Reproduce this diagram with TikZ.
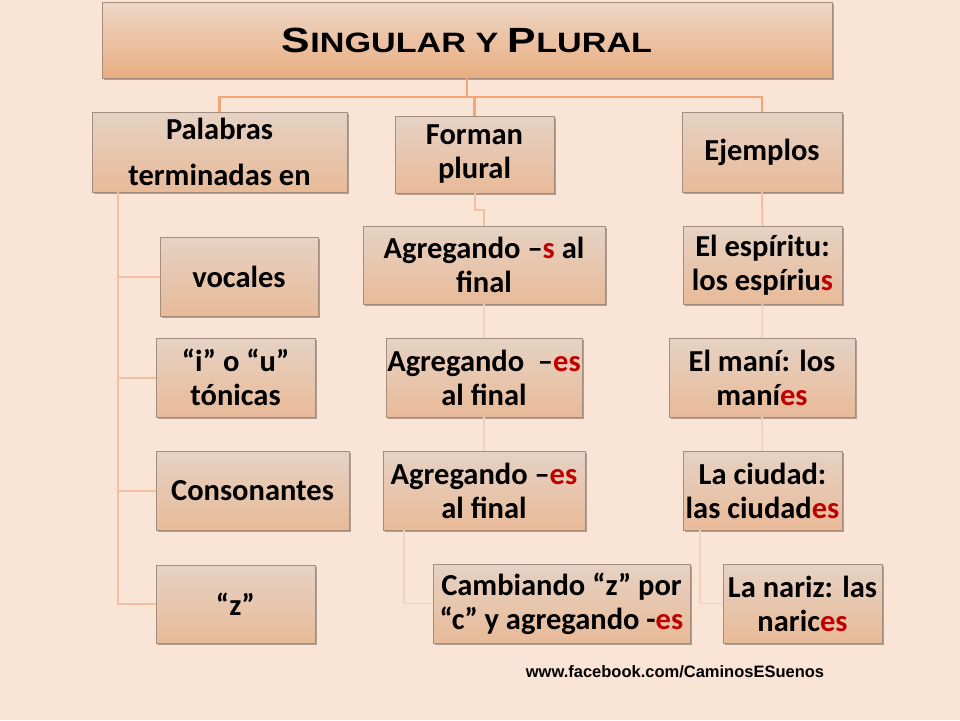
\documentclass[tikz,border=0pt]{standalone}
\usepackage{fontspec}
\setmainfont{Carlito}
\newfontfamily\titlefont{Liberation Sans}
\usetikzlibrary{shadows}
\definecolor{peach_bg}{HTML}{F9E4D6}
\definecolor{peach_top}{HTML}{E6D2C4}
\definecolor{peach_bot}{HTML}{E8BA98}
\definecolor{title_top}{HTML}{EED7C7}
\definecolor{title_bot}{HTML}{E9AD80}
\definecolor{edge_grey}{HTML}{A38D7E}
\definecolor{link_main}{HTML}{F0A676}
\definecolor{link_soft}{HTML}{F2C0A0}
\definecolor{link_faint}{HTML}{F1D0BD}
\definecolor{plural_red}{HTML}{C00000}
\newcommand{\rojo}[1]{\textcolor{plural_red}{#1}}

\begin{document}
\begin{tikzpicture}[x=1pt, y=-1pt,
  box/.style={draw=edge_grey, line width=0.6pt, top color=peach_top, bottom color=peach_bot,
    inner sep=0pt, outer sep=0pt, align=center, font=\bfseries\fontsize{30.5}{34}\selectfont,
    drop shadow={shadow xshift=2pt, shadow yshift=-2pt, opacity=0.3, fill=black}},
  link/.style={draw=link_main, line width=2.4pt},
  sublink/.style={draw=link_soft, line width=2pt},
  faintlink/.style={draw=link_faint, line width=1.6pt}]
   % background
   \fill [peach_bg] (0, 0) rectangle (960, 720);
   \useasboundingbox (0, 0) rectangle (960, 720);
   % title
   \node [box, top color=title_top, bottom color=title_bot, minimum width=730, minimum height=76] (title) at (467, 40)
     {\scalebox{1.22}[1]{\titlefont\bfseries\fontsize{35}{38}\selectfont S{\fontsize{28}{38}\selectfont INGULAR Y }P{\fontsize{28}{38}\selectfont LURAL}}};
   % first row
   \node [box, minimum width=255, minimum height=80] (palabras) at (219.5, 152) {Palabras\\[12pt]terminadas en};
   \node [box, minimum width=159, minimum height=77] (forman) at (474.5, 154.5) {Forman\\plural};
   \node [box, minimum width=160, minimum height=80] (ejemplos) at (762, 152) {Ejemplos};
   % endings
   \node [box, minimum width=158, minimum height=79] (vocales) at (239, 276.5) {vocales};
   \node [box, minimum width=159, minimum height=79] (tonicas) at (235.5, 377.5) {“i” o “u”\\tónicas};
   \node [box, minimum width=193, minimum height=79] (consonantes) at (252.5, 490.5) {Consonantes};
   \node [box, minimum width=159, minimum height=78] (zeta) at (235.5, 604) {“z”};
   % rules
   \node [box, minimum width=242, minimum height=78] (agrs) at (484, 265) {Agregando –\rojo{s} al\\final};
   \node [box, minimum width=196, minimum height=79] (agresa) at (484, 377.5) {Agregando \ –\rojo{es}\\al final};
   \node [box, minimum width=202, minimum height=79] (agresb) at (484, 490.5) {Agregando –\rojo{es}\\al final};
   \node [box, minimum width=257, minimum height=79] (cambiando) at (561.5, 603.5) {Cambiando “z” por\\“c” y agregando -\rojo{es}};
   % examples
   \node [box, minimum width=159, minimum height=78] (espiritu) at (762.5, 265) {El espíritu:\\los espíriu\rojo{s}};
   \node [box, minimum width=186, minimum height=79] (mani) at (762, 377.5) {El maní: los\\maní\rojo{es}};
   \node [box, minimum width=159, minimum height=79] (ciudad) at (762.5, 490.5) {La ciudad:\\las ciudad\rojo{es}};
   \node [box, minimum width=159, minimum height=79] (nariz) at (802.5, 603.5) {La nariz: las\\naric\rojo{es}};
   % footer
   \node [font=\titlefont\bfseries\fontsize{16.5}{18}\selectfont] (pie) at (675, 672) {www.facebook.com/CaminosESuenos};
   % title tree
   \draw [link] (title.south) -- ++(0, 19) coordinate (hub);
   \draw [link] (hub) -| (palabras.north);
   \draw [link] (hub) -| (ejemplos.north);
   \draw [link] (hub) -| (forman.north);
   % left branch
   \coordinate (pal) at ([xshift=26]palabras.south west);
   \draw [sublink] (pal) |- (zeta.west);
   \foreach \n in {vocales, tonicas, consonantes}
     \draw [sublink] (pal |- \n.west) -- (\n.west);
   % middle branch
   \draw [sublink] (forman.south) -- ++(0, 17) -| (agrs.north);
   \draw [faintlink] (agrs.south) -- (agresa.north);
   \draw [faintlink] (agresa.south) -- (agresb.north);
   \draw [faintlink] ([xshift=21]agresb.south west) |- (cambiando.west);
   % right branch
   \draw [sublink] (ejemplos.south) -- (espiritu.north);
   \draw [faintlink] (espiritu.south) -- (mani.north);
   \draw [faintlink] (mani.south) -- (ciudad.north);
   \draw [faintlink] ([xshift=17]ciudad.south west) |- (nariz.west);
\end{tikzpicture}
\end{document}
